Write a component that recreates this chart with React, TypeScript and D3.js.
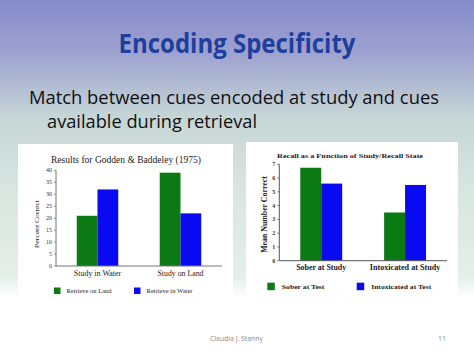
import React from "react";
import * as d3 from "d3";

const W = 474;
const H = 355;

// Left chart data
const leftCategories = ["Study in Water", "Study on Land"];
const leftSeries = ["Retrieve on Land", "Retrieve in Water"];
const leftLand = [21, 39];
const leftWater = [32, 22];
const leftTicks = [0, 5, 10, 15, 20, 25, 30, 35, 40];

// Right chart data
const rightCategories = ["Sober at Study", "Intoxicated at Study"];
const rightSeries = ["Sober at Test", "Intoxicated at Test"];
const rightSober = [6.75, 3.5];
const rightIntox = [5.6, 5.5];
const rightTicks = [0, 1, 2, 3, 4, 5, 6, 7];

const GREEN = "#0b7a12";
const BLUE = "#0a0af2";
const SERIF = "'Liberation Serif', 'DejaVu Serif', serif";
const SANS = "'Open Sans', 'Liberation Sans', sans-serif";

function BarPanel(props: {
  px: number; py: number; pw: number; ph: number;
  title: string; titleX: number; titleY: number; titleLen: number; titleSize: number;
  bold: boolean;
  x0: number; x1: number; yBase: number; yTop: number; yMax: number;
  ticks: number[];
  categories: string[]; catY: number; catLens: number[]; catSize: number;
  s1: number[]; s2: number[]; series: string[];
  yLabel: string; yLabelX: number; yLabelY: number; yLabelLen: number; yLabelSize: number;
  legY: number; legSq: number; leg1X: number; leg2X: number; legLens: number[]; legSize: number; legGap: number;
  tickSize: number;
  axisColor: string;
}) {
  const p = props;
  const x = d3.scaleBand<string>().domain(p.categories).range([p.x0, p.x1]).paddingInner(0.5).paddingOuter(0.25);
  const inner = d3.scaleBand<number>().domain([0, 1]).range([0, x.bandwidth()]);
  const y = d3.scaleLinear().domain([0, p.yMax]).range([p.yBase, p.yTop]);
  const fw = p.bold ? 700 : 400;
  return (
    <g>
      <rect x={p.px} y={p.py} width={p.pw} height={p.ph} fill="#ffffff" />
      <text x={p.titleX} y={p.titleY} textAnchor="middle" fontFamily={SERIF} fontSize={p.titleSize} fontWeight={fw} fill="#222"
        textLength={p.titleLen} lengthAdjust="spacingAndGlyphs">{p.title}</text>
      {p.categories.map((c, i) => (
        <g key={c}>
          <rect x={x(c)! + inner(0)!} y={y(p.s1[i])} width={inner.bandwidth()} height={p.yBase - y(p.s1[i])} fill={GREEN} />
          <rect x={x(c)! + inner(1)!} y={y(p.s2[i])} width={inner.bandwidth()} height={p.yBase - y(p.s2[i])} fill={BLUE} />
          <text x={x(c)! + x.bandwidth() / 2} y={p.catY} textAnchor="middle" fontFamily={SERIF} fontSize={p.catSize}
            fontWeight={fw} fill="#222" textLength={p.catLens[i]} lengthAdjust="spacingAndGlyphs">{c}</text>
        </g>
      ))}
      <line x1={p.x0} x2={p.x0} y1={p.yTop} y2={p.yBase} stroke={p.axisColor} strokeWidth={1} />
      <line x1={p.x0} x2={p.x1} y1={p.yBase} y2={p.yBase} stroke={p.axisColor} strokeWidth={1} />
      {p.ticks.map((t) => (
        <g key={t}>
          <line x1={p.x0 - 2} x2={p.x0} y1={y(t)} y2={y(t)} stroke={p.axisColor} strokeWidth={0.8} />
          <text x={p.x0 - 4} y={y(t) + p.tickSize * 0.35} textAnchor="end" fontFamily={SERIF} fontSize={p.tickSize}
            fontWeight={fw} fill="#333">{t}</text>
        </g>
      ))}
      <text transform={`translate(${p.yLabelX},${p.yLabelY}) rotate(-90)`} textAnchor="middle" fontFamily={SERIF}
        fontSize={p.yLabelSize} fontWeight={fw} fill="#222" textLength={p.yLabelLen} lengthAdjust="spacingAndGlyphs">{p.yLabel}</text>
      {[p.leg1X, p.leg2X].map((lx, i) => (
        <g key={i}>
          <rect x={lx} y={p.legY} width={p.legSq} height={p.legSq} fill={i === 0 ? GREEN : BLUE} />
          <text x={lx + p.legSq + p.legGap} y={p.legY + p.legSq * 0.8} fontFamily={SERIF} fontSize={p.legSize} fontWeight={fw}
            fill="#222" textLength={p.legLens[i]} lengthAdjust="spacingAndGlyphs">{p.series[i]}</text>
        </g>
      ))}
    </g>
  );
}

export default function App() {
  return (
    <svg width={W} height={H} style={{ position: "absolute", left: 0, top: 0, display: "block" }}>
      <defs>
        <linearGradient id="bg" x1="0" y1="0" x2="0" y2="1">
          <stop offset="0" stopColor="#878acb" />
          <stop offset="0.15" stopColor="#9ea2d0" />
          <stop offset="0.33" stopColor="#c6d6d6" />
          <stop offset="0.55" stopColor="#d8e7e0" />
          <stop offset="0.78" stopColor="#e4efe8" />
          <stop offset="0.84" stopColor="#ffffff" />
          <stop offset="1" stopColor="#ffffff" />
        </linearGradient>
      </defs>
      <rect x={0} y={0} width={W} height={H} fill="url(#bg)" />
      <text x={237} y={53} textAnchor="middle" fontFamily={SANS} fontWeight={700} fontSize={26} fill="#1e3f9c"
        textLength={237} lengthAdjust="spacingAndGlyphs">Encoding Specificity</text>
      <text x={29} y={104} fontFamily={SANS} fontSize={18} fill="#111" textLength={410} lengthAdjust="spacingAndGlyphs">
        Match between cues encoded at study and cues
      </text>
      <text x={47} y={128} fontFamily={SANS} fontSize={18} fill="#111" textLength={210} lengthAdjust="spacingAndGlyphs">
        available during retrieval
      </text>

      <BarPanel
        px={18} py={144} pw={215} ph={152}
        title="Results for Godden & Baddeley (1975)" titleX={126} titleY={163} titleLen={150} titleSize={9.5} bold={false}
        x0={56} x1={222} yBase={266} yTop={170.3} yMax={40} ticks={leftTicks}
        categories={leftCategories} catY={276} catLens={[47.5, 46]} catSize={7.5}
        s1={leftLand} s2={leftWater} series={leftSeries}
        yLabel="Percent Correct" yLabelX={39} yLabelY={224} yLabelLen={48} yLabelSize={6.5}
        legY={287.5} legSq={6.5} leg1X={54} leg2X={134} legLens={[45, 46]} legSize={5.5} legGap={6}
        tickSize={6} axisColor="#777"
      />
      <BarPanel
        px={246} py={142} pw={212} ph={153}
        title="Recall as a Function of Study/Recall State" titleX={350} titleY={158} titleLen={146} titleSize={7} bold={true}
        x0={279.3} x1={447} yBase={260.7} yTop={164.3} yMax={7} ticks={rightTicks}
        categories={rightCategories} catY={270} catLens={[50, 70.5]} catSize={7.5}
        s1={rightSober} s2={rightIntox} series={rightSeries}
        yLabel="Mean Number Correct" yLabelX={266.5} yLabelY={214.5} yLabelLen={76.5} yLabelSize={7.5}
        legY={282.7} legSq={7.5} leg1X={267.3} leg2X={356.7} legLens={[42.6, 60]} legSize={6} legGap={7}
        tickSize={6} axisColor="#555"
      />

      <text x={210} y={341} fontFamily={SANS} fontSize={7} fill="#8a8a8a" textLength={53} lengthAdjust="spacingAndGlyphs">Claudia J. Stanny</text>
      <text x={438} y={341} fontFamily={SANS} fontSize={7} fill="#8a8a8a">11</text>
    </svg>
  );
}
